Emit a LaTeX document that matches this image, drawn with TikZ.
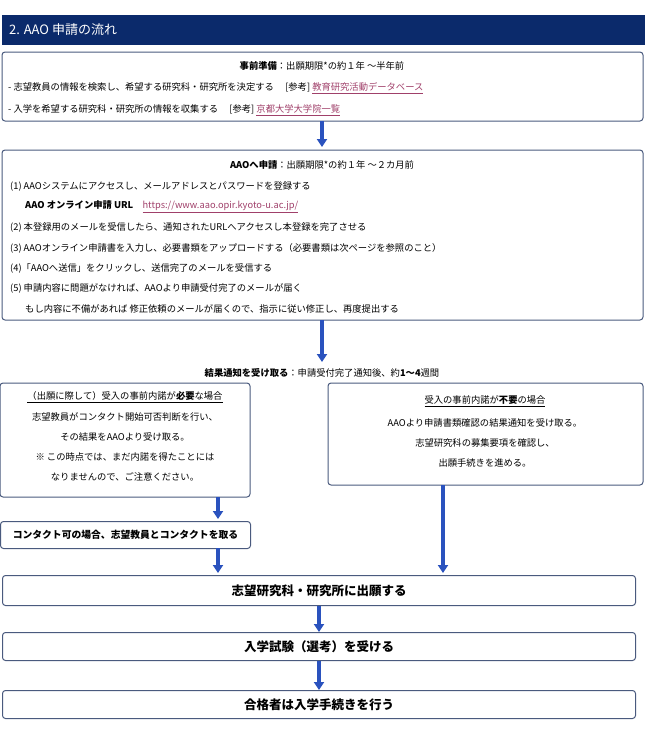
\documentclass[tikz,border=0pt]{standalone}
\usepackage{fontspec}
\setmainfont{Noto Sans CJK JP}
\usetikzlibrary{arrows.meta}
\definecolor{navy}{HTML}{0B2A6B}
\definecolor{bord}{HTML}{4A5A7E}
\definecolor{arr}{HTML}{2A52BE}
\definecolor{lnk}{HTML}{A0406A}
\newcommand{\lk}[1]{\textcolor{lnk}{\underline{#1}}}
\begin{document}
\begin{tikzpicture}[x=1pt,y=-1pt,
  box/.style={draw=bord,line width=1pt,rounded corners=3pt},
  txt/.style={inner sep=0pt,font=\fontsize{9.3}{11}\selectfont},
  tl/.style={txt,anchor=west},
  big/.style={inner sep=0pt,font=\fontsize{12.5}{14}\selectfont\bfseries},
  flow/.style={draw=arr,line width=3.2pt,-{Triangle[width=10pt,length=8pt]}}]
\useasboundingbox (0,0) rectangle (650,729);
\fill[navy] (2,15) rectangle (645,45);
\node[anchor=west,text=white,inner sep=0pt,font=\fontsize{13}{15}\selectfont] (hd) at (9,30) {2. AAO 申請の流れ};
% box 1
\draw[box] (2,52) rectangle (643,121);
\coordinate (b1t) at (322,52); \coordinate (b1b) at (322,121);
\node[txt] (p0) at (322,66) {\textbf{事前準備}：出願期限*の約１年 〜半年前};
\node[tl] (p1) at (8,88) {- 志望教員の情報を検索し、希望する研究科・研究所を決定する　 [参考] \lk{教育研究活動データベース}};
\node[tl] (p2) at (8,110) {- 入学を希望する研究科・研究所の情報を収集する　 [参考] \lk{京都大学大学院一覧}};
% box 2
\draw[box] (2,150) rectangle (643,320);
\coordinate (b2t) at (322,147); \coordinate (b2b) at (322,320);
\node[txt] (a0) at (322,165) {\textbf{AAOへ申請}：出願期限*の約１年 〜２カ月前};
\node[tl] (a1) at (10,186) {(1) AAOシステムにアクセスし、メールアドレスとパスワードを登録する};
\node[tl] (a2) at (25,207) {\textbf{AAO オンライン申請 URL}\quad \lk{https://www.aao.opir.kyoto-u.ac.jp/}};
\node[tl] (a3) at (10,227) {(2) 本登録用のメールを受信したら、通知されたURLへアクセスし本登録を完了させる};
\node[tl] (a4) at (10,248) {(3) AAOオンライン申請書を入力し、必要書類をアップロードする（必要書類は次ページを参照のこと）};
\node[tl] (a5) at (10,268) {(4)「AAOへ送信」をクリックし、送信完了のメールを受信する};
\node[tl] (a6) at (10,288) {(5) 申請内容に問題がなければ、AAOより申請受付完了のメールが届く};
\node[tl] (a7) at (25,309) {もし内容に不備があれば 修正依頼のメールが届くので、指示に従い修正し、再度提出する};
\draw[flow] (b1b) -- (b2t);
% result label
\node[txt] (res) at (322,373) {\textbf{結果通知を受け取る}：申請受付完了通知後、約\textbf{1〜4}週間};
\coordinate (res1) at (322,320);
\draw[flow] (res1) -- (322,362);
% left box
\draw[box] (0,383) rectangle (250,497);
\node[txt] (l0) at (125,397) {\underline{（出願に際して）受入の事前内諾が\textbf{必要}な場合}};
\node[txt] (l1) at (125,417) {志望教員がコンタクト開始可否判断を行い、};
\node[txt] (l2) at (125,437) {その結果をAAOより受け取る。};
\node[txt] (l3) at (125,457) {※ この時点では、まだ内諾を得たことには};
\node[txt] (l4) at (125,477) {なりませんので、ご注意ください。};
% right box
\draw[box] (328,383) rectangle (643,485);
\node[txt] (r0) at (485,401) {\underline{受入の事前内諾が\textbf{不要}の場合}};
\node[txt] (r1) at (485,423) {AAOより申請書類確認の結果通知を受け取る。};
\node[txt] (r2) at (485,443) {志望研究科の募集要項を確認し、};
\node[txt] (r3) at (485,463) {出願手続きを進める。};
% contact
\node[box,minimum width=250pt,minimum height=27pt,anchor=north west,big,font=\fontsize{9.8}{11}\selectfont\bfseries] (ct) at (0,521) {コンタクト可の場合、志望教員とコンタクトを取る};
\draw[flow] (218,497) -- (218,519);
% final boxes
\node[box,minimum width=633pt,minimum height=30pt,anchor=north west,big] (ap) at (2,575) {志望研究科・研究所に出願する};
\node[box,minimum width=633pt,minimum height=28pt,anchor=north west,big] (ex) at (2,632) {入学試験（選考）を受ける};
\node[box,minimum width=633pt,minimum height=28pt,anchor=north west,big] (fn) at (2,690) {合格者は入学手続きを行う};
\draw[flow] (218,548) -- (218,573);
\draw[flow] (443,485) -- (443,573);
\draw[flow] (ap.south) -- (ex.north);
\draw[flow] (ex.south) -- (fn.north);
\end{tikzpicture}
\end{document}
